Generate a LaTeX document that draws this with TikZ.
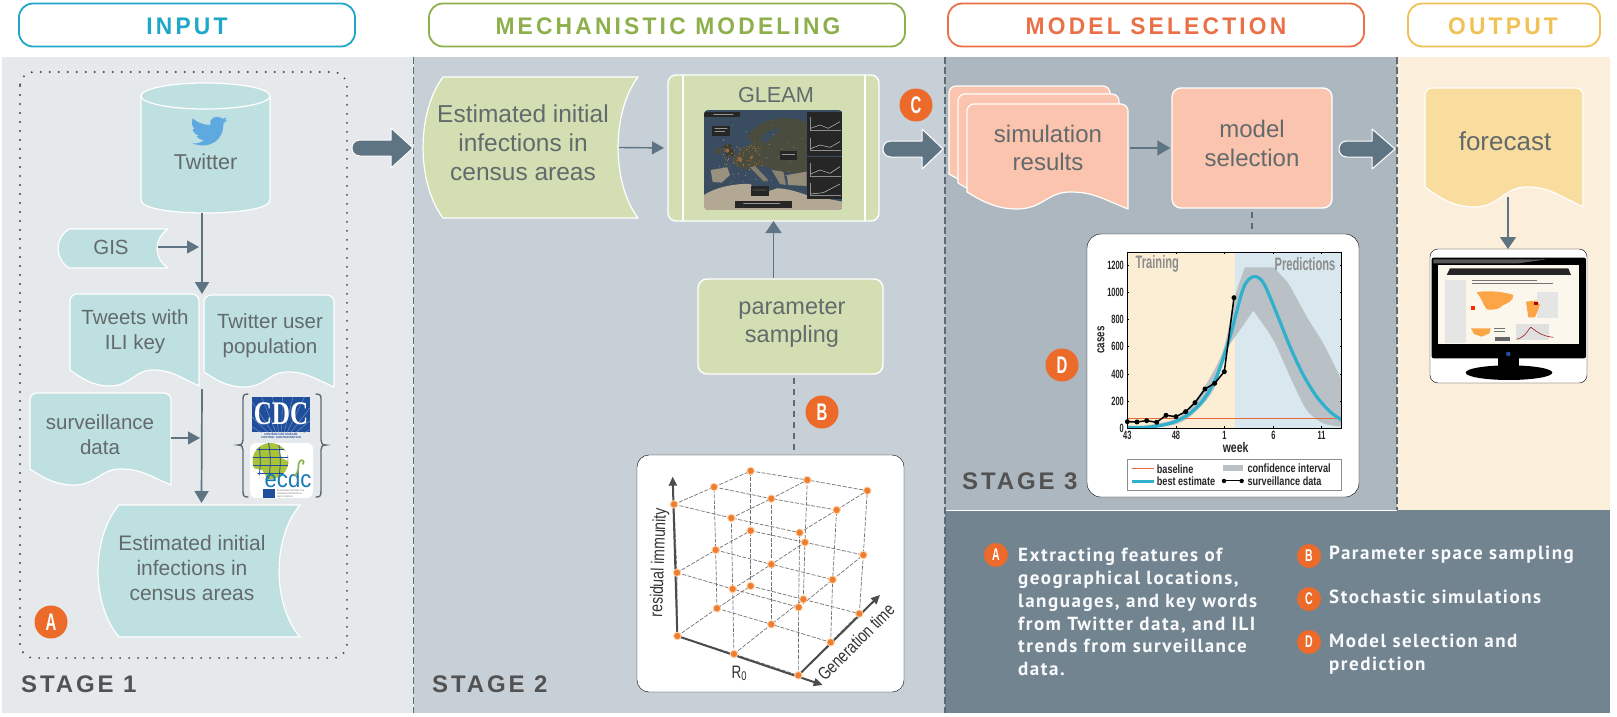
\documentclass[tikz,border=0pt]{standalone}
\usepackage{fontspec}
\setmainfont{Liberation Sans}
\newfontfamily\hdrfont[LetterSpace=14]{Liberation Sans}
\newfontfamily\stagefont[LetterSpace=12]{Liberation Sans}
\newfontfamily\legfont[LetterSpace=8]{PT Sans}
\newfontfamily\logoserif{Liberation Serif}
\usetikzlibrary{arrows.meta,calc,shapes.geometric}
\definecolor{txtgray}{HTML}{636A6C}
\definecolor{arrowc}{HTML}{5F7482}
\definecolor{dashc}{HTML}{5E6A72}
\definecolor{badgec}{HTML}{EC6A2A}
\definecolor{teal}{HTML}{BFE0E0}
\definecolor{greenb}{HTML}{D3DFB3}
\definecolor{salmon}{HTML}{FBC4AE}
\definecolor{yellowb}{HTML}{F8DD9F}
\definecolor{pa}{HTML}{E6E9EC}
\definecolor{pb}{HTML}{C8D0D7}
\definecolor{pc}{HTML}{ACB7BF}
\definecolor{pd}{HTML}{FBEFDB}
\definecolor{pe}{HTML}{738491}
\definecolor{hdra}{HTML}{1EA7C8}
\definecolor{hdrb}{HTML}{8EB04C}
\definecolor{hdrc}{HTML}{EA7047}
\definecolor{hdrd}{HTML}{F0C255}
\definecolor{cdcblue}{HTML}{1F4E9C}
\definecolor{birdc}{HTML}{5DA9E0}
\definecolor{mapsea}{HTML}{3A4D60}
\definecolor{mapland}{HTML}{4A4C3E}
\definecolor{maptan}{HTML}{B2A894}
\definecolor{mapor}{HTML}{96693F}
\definecolor{bandc}{HTML}{B9C1C6}
\definecolor{linered}{HTML}{E8683A}
\definecolor{lineblue}{HTML}{2FB0CC}
\definecolor{trainbg}{HTML}{FBEED5}
\definecolor{predbg}{HTML}{D9E8EE}
\definecolor{mono}{HTML}{FBA546}
\definecolor{screenbg}{HTML}{FCF7EC}
\definecolor{dotor}{HTML}{EF7D2F}
\newcommand\cnd[2][.72]{\scalebox{#1}[1]{#2}}
\newcommand\bx[5]{\node[inner sep=0pt,outer sep=0pt,minimum width={(#4-#2)*1pt},minimum height={(#5-#3)*1pt}] (#1) at ({(#2+#4)/2},{(#3+#5)/2}) {};}
% fill, x0,y0,x1,yl,yr
\newcommand\docshape[6]{\draw[fill=#1,draw=white,line width=1.2pt,line join=round] (#2,#5) [rounded corners=7pt] -- (#2,#3) -- (#4,#3) [sharp corners] -- (#4,#6)
 .. controls ({#4-.17*(#4-#2)},{#5+.35*(#6-#5)}) and ({#4-.22*(#4-#2)},#5) .. ({#4-.36*(#4-#2)},#5)
 .. controls ({#4-.5*(#4-#2)},#5) and ({#2+.47*(#4-#2)},#6) .. ({#2+.31*(#4-#2)},#6)
 .. controls ({#2+.17*(#4-#2)},#6) and ({#2+.08*(#4-#2)},{#5+.45*(#6-#5)}) .. (#2,#5) -- cycle;}
% fill,x0,y0,x1,y1,c
\newcommand\tapeshape[6]{\draw[fill=#1,draw=white,line width=1.2pt,line join=round] ({#2+#6},#3) -- (#4,#3)
 .. controls ({#4-1.33*#6},{#3+.25*(#5-#3)}) and ({#4-1.33*#6},{#5-.25*(#5-#3)}) .. (#4,#5) -- ({#2+#6},#5)
 .. controls ({#2-.33*#6},{#5-.25*(#5-#3)}) and ({#2-.33*#6},{#3+.25*(#5-#3)}) .. ({#2+#6},#3) -- cycle;}
% x0,x1,xh,yc
\newcommand\blockarrow[4]{\draw[fill=arrowc,draw=white,line width=1pt,line join=round] ({#1+8},{#4-8}) -- (#3,{#4-8}) -- (#3,{#4-20}) -- (#2,#4) -- (#3,{#4+20}) -- (#3,{#4+8}) -- ({#1+8},{#4+8}) .. controls ({#1-2.7},{#4+8}) and ({#1-2.7},{#4-8}) .. ({#1+8},{#4-8}) -- cycle;}
\tikzset{
 lbl/.style={text=txtgray,align=center,inner sep=0pt},
 arr/.style={draw=arrowc,line width=1.7pt,-{Triangle[length=12pt,width=14pt]}},
 thinarr/.style={draw=arrowc,line width=1.4pt,-{Triangle[length=12pt,width=13pt]}},
 dashl/.style={draw=dashc,line width=1.3pt,dash pattern=on 6pt off 5pt},
 paneld/.style={draw=dashc,line width=1.3pt,dash pattern=on 7pt off 3pt},
 hdrbox/.style={draw=#1,line width=1.8pt,rounded corners=14pt,fill=white,inner sep=0pt},
 hdrtxt/.style={text=#1,inner sep=0pt,font=\hdrfont\bfseries\fontsize{24}{26}\selectfont},
 stagelbl/.style={text=black!68,inner sep=0pt,font=\stagefont\bfseries\fontsize{24}{26}\selectfont},
 badge/.style={circle,fill=badgec,text=white,inner sep=0pt,minimum size=33pt,font=\bfseries\fontsize{24}{24}\selectfont},
 sbadge/.style={circle,fill=badgec,text=white,inner sep=0pt,minimum size=24pt,font=\bfseries\fontsize{17}{17}\selectfont},
 legtxt/.style={text=white!96!pe,align=left,inner sep=0pt,anchor=west,font=\legfont\bfseries\fontsize{19}{22.9}\selectfont},
 gdot/.style={circle,fill=dotor,draw=orange!35,line width=.9pt,inner sep=0pt,minimum size=7.5pt},
 gline/.style={draw=black!55,line width=.7pt,dash pattern=on 4pt off 1.5pt},
 axisl/.style={draw=black!70,line width=2pt,-{Triangle[length=9pt,width=8pt]}},
 axislab/.style={inner sep=0pt,text=black!80,font=\fontsize{18}{18}\selectfont},
 cardw/.style={fill=white,rounded corners=12pt},
 tick/.style={draw=black,line width=.5pt},
 chartlab/.style={inner sep=0pt,font=\bfseries\fontsize{12}{12}\selectfont,text=black!85},
}
\begin{document}
\begin{tikzpicture}[x=1pt,y=-1pt]
\useasboundingbox (0,0) rectangle (1617,717);
\fill[white] (0,0) rectangle (1617,717);
% panels
\fill[pa] (2,57) rectangle (413.5,713);
\fill[pb] (413.5,57) rectangle (945,713);
\fill[pc] (945,57) rectangle (1397,510);
\fill[pd] (1397,57) rectangle (1610,510);
\fill[pe] (945,510) rectangle (1610,713);
\draw[white,line width=1pt] (945,510) -- (1397,510);
\coordinate (d1a) at (413.5,57); \coordinate (d1b) at (413.5,713);
\coordinate (d2a) at (945,57); \coordinate (d2b) at (945,713);
\coordinate (d3a) at (1397,57); \coordinate (d3b) at (1397,510);
\draw[paneld] (d1a) -- (d1b);
\draw[paneld] (d2a) -- (d2b);
\draw[paneld] (d3a) -- (d3b);
% headers
\node[hdrbox=hdra,minimum width=336pt,minimum height=43pt] (hInputBox) at (187,25) {};
\node[hdrbox=hdrb,minimum width=476pt,minimum height=43pt] (hMechBox) at (667,25) {};
\node[hdrbox=hdrc,minimum width=416pt,minimum height=43pt] (hSelBox) at (1156,25) {};
\node[hdrbox=hdrd,minimum width=192pt,minimum height=43pt] (hOutBox) at (1504,25) {};
\node[hdrtxt=hdra] (hInput) at (187,26) {\cnd[.95]{INPUT}};
\node[hdrtxt=hdrb] (hMech) at (668,26) {\cnd[.95]{MECHANISTIC MODELING}};
\node[hdrtxt=hdrc] (hSel) at (1156,26) {\cnd[.95]{MODEL SELECTION}};
\node[hdrtxt=hdrd] (hOut) at (1503,26) {\cnd[.95]{OUTPUT}};
% stage labels
\node[stagelbl,anchor=west] (st1) at (21,684) {STAGE 1};
\node[stagelbl,anchor=west] (st2) at (432,684) {STAGE 2};
\node[stagelbl,anchor=west] (st3) at (962,481) {STAGE 3};
% dotted box
\draw[black!72,line width=2.1pt,dash pattern=on 0pt off 9pt,line cap=round,rounded corners=14pt] (20,72) rectangle (347,658);
% cylinder
\draw[fill=teal,draw=white,line width=1.2pt] (141,96) -- (141,200) .. controls (141,209) and (175,213) .. (205.5,213) .. controls (236,213) and (270,209) .. (270,200) -- (270,96) -- cycle;
\draw[fill=teal,draw=white,line width=1.2pt] (205.5,96) ellipse [x radius=64.5,y radius=13];
\bx{cyl}{141}{83}{270}{213}
\begin{scope}[shift={(0,60)},x=.3333pt,y=-.3333pt]
\fill[birdc] (682,178) -- (672,184) -- (680,172) -- (668,177) .. controls (650,162) and (625,175) .. (632,195) .. controls (605,195) and (590,185) .. (578,175) .. controls (572,190) and (578,202) .. (585,208) -- (578,207) .. controls (580,218) and (588,225) .. (597,228) -- (590,229) .. controls (595,237) and (602,240) .. (612,241) .. controls (602,248) and (590,252) .. (576,250) .. controls (630,270) and (672,240) .. (670,190) .. controls (675,187) and (680,183) .. (682,178) -- cycle;
\end{scope}
\node[lbl,font=\fontsize{21.5}{25}\selectfont] (twT) at (205.5,162) {Twitter};
% GIS
\tapeshape{teal}{58}{229}{168}{268}{11}
\bx{gis}{58}{229}{158}{268}
\node[lbl,font=\fontsize{20.5}{25}\selectfont] (gisT) at (111,247) {GIS};
% Tweets
\docshape{teal}{70}{294}{199}{370}{386}
\bx{tweets}{70}{294}{199}{386}
\node[lbl,font=\fontsize{20.5}{25}\selectfont] (tweetsT) at (135,331.5) {Tweets with\\ILI key};
\docshape{teal}{204}{295}{334}{372}{387}
\bx{tusers}{204}{295}{334}{387}
\node[lbl,font=\fontsize{20.5}{25}\selectfont] (tusersT) at (270,335.5) {Twitter user\\population};
% surveillance
\docshape{teal}{30}{393}{171}{469}{485}
\bx{surv}{30}{393}{171}{485}
\node[lbl,font=\fontsize{20.5}{25}\selectfont] (survT) at (100,434.5) {surveillance\\data};
% trunk
\coordinate (trA) at (202,294);
\coordinate (trB) at (202,389);
\coordinate (trC) at (201.5,503);
\coordinate (gisTip) at (199,247);
\coordinate (survTip) at (200,438);
\draw[arr] (cyl.south -| trA) -- (trA);
\draw[arr] (trB) -- (trC);
\draw[thinarr] (gis.east |- gisTip) -- (gisTip);
\draw[thinarr] (surv.east |- survTip) -- (survTip);
% CDC logo
\begin{scope}
\clip (252,397) rectangle (310,432);
\fill[cdcblue] (252,397) rectangle (310,432);
\foreach \a in {-70,-58,...,70}{\draw[white!45!cdcblue,line width=.35pt] (281,445) -- ++({\a-90}:60);}
\end{scope}
\node[inner sep=0pt,text=white,font=\logoserif\bfseries\fontsize{33}{33}\selectfont] (cdcT) at (281,414) {\scalebox{.76}[1]{CDC}};
\node[inner sep=0pt,align=center,text=cdcblue,font=\bfseries\fontsize{2.8}{3.6}\selectfont] (cdcC) at (281,436) {CENTERS FOR DISEASE\\CONTROL AND PREVENTION};
% ECDC logo
\fill[white,rounded corners=6pt] (250,443) rectangle (313,498);
\fill[hdrb!75!yellow] (270.5,461) circle (18);
\begin{scope}\clip (270.5,461) circle (18);
\fill[white] (252,468) -- (262,470) -- (268,480) -- (250,480) -- cycle;
\fill[white] (278,448) -- (288,452) -- (290,462) -- (282,458) -- cycle;
\foreach \yy in {449,457,465,473}{\draw[cdcblue,line width=.8pt] (250,\yy) -- (292,\yy);}
\foreach \xx in {258,268,278,286}{\draw[cdcblue,line width=.8pt] (\xx,440) .. controls (\xx+3,455) and (\xx+3,468) .. (\xx,482);}
\end{scope}
\node[inner sep=0pt,text=cdcblue!75!cyan,font=\fontsize{24}{24}\selectfont] (ecdcT) at (288,479) {\scalebox{.92}[1]{ecdc}};
\draw[hdrb,line width=1.6pt,line cap=round] (294,476) .. controls (302,470) and (296,464) .. (300,461) .. controls (302,459) and (305,461) .. (303,464);
\fill[cdcblue] (263,489) rectangle (275,498);
\node[inner sep=0pt,align=left,anchor=west,text=black!60,font=\fontsize{2.2}{3}\selectfont] (ecdcC) at (277,493.5) {EUROPEAN CENTRE FOR\\DISEASE PREVENTION\\AND CONTROL};
% braces
\draw[dashc,line width=1.4pt,line cap=round] (248,394) .. controls (243,394) and (243,396) .. (243,400) -- (243,440) .. controls (243,443) and (242,445) .. (238,445) .. controls (242,445) and (243,447) .. (243,450) -- (243,491) .. controls (243,496) and (244,497) .. (248,497);
\draw[dashc,line width=1.4pt,line cap=round] (316,394) .. controls (321,394) and (321,396) .. (321,400) -- (321,440) .. controls (321,443) and (322,445) .. (326,445) .. controls (322,445) and (321,447) .. (321,450) -- (321,491) .. controls (321,496) and (320,497) .. (316,497);
% Estimated A
\tapeshape{teal}{98}{505}{300}{637}{21}
\node[lbl,font=\fontsize{21}{25}\selectfont] (estAT) at (192,568) {Estimated initial\\infections in\\census areas};
\node[badge] (bA) at (51,622) {\cnd[.62]{A}};
% Block arrows
\blockarrow{352}{413}{391}{148}
\blockarrow{883}{943}{922}{149}
\blockarrow{1339}{1395}{1372}{149}
% Estimated G
\tapeshape{greenb}{423}{77}{638}{218}{20}
\bx{estG}{423}{77}{619}{218}
\node[lbl,font=\fontsize{24.5}{29}\selectfont] (estGT) at (523,143) {Estimated initial\\infections in\\census areas};
% GLEAM
\draw[fill=greenb,draw=white,line width=1.4pt,rounded corners=8pt] (668,75) rectangle (879,221);
\draw[white,line width=1.3pt] (683,75) -- (683,221) (865,75) -- (865,221);
\bx{gleam}{668}{75}{879}{221}
\node[lbl,font=\fontsize{21.7}{25}\selectfont] (gleamT) at (776,95) {GLEAM};
\begin{scope}[shift={(640,60)},x=.3333pt,y=-.3333pt]
\begin{scope}
\path[clip,rounded corners=4pt] (192,150) rectangle (608,450);
\fill[mapsea] (192,150) rectangle (608,450);
% land
\fill[mapland] (320,230) .. controls (340,205) and (370,180) .. (420,176) .. controls (460,172) and (490,180) .. (500,190) -- (500,335) .. controls (470,345) and (450,335) .. (425,338) .. controls (400,330) and (385,318) .. (360,318) .. controls (345,325) and (320,335) .. (300,325) .. controls (285,315) and (270,300) .. (285,285) .. controls (300,270) and (330,260) .. (335,245) -- cycle;
\fill[mapsea] (362,238) .. controls (375,215) and (395,205) .. (420,208) .. controls (405,225) and (385,240) .. (372,250) -- cycle;
\fill[mapland!80!black] (248,258) -- (272,250) -- (285,285) -- (262,292) -- cycle;
\fill[mapland] (225,265) -- (245,262) -- (243,282) -- (226,282) -- cycle;
\fill[maptan!75!mapland] (212,330) -- (262,322) -- (270,345) -- (245,368) -- (218,366) -- cycle;
\fill[maptan!55!mapland] (330,322) -- (345,318) -- (385,360) -- (372,365) -- cycle;
\fill[maptan!60!mapland] (395,330) -- (430,335) -- (438,375) -- (420,372) -- cycle;
\fill[maptan!70!mapland] (440,345) -- (500,335) -- (500,378) -- (445,375) -- cycle;
\fill[maptan] (192,405) .. controls (230,380) and (290,370) .. (330,372) .. controls (350,395) and (380,400) .. (410,385) .. controls (440,385) and (470,395) .. (500,405) -- (608,425) -- (608,450) -- (192,450) -- cycle;
% city lights
\pgfmathsetseed{7}
\foreach \n in {1,...,70}{\pgfmathsetmacro\rx{250+rnd*120}\pgfmathsetmacro\ry{255+rnd*65}\fill[mapor!70!orange] (\rx,\ry) circle (1.7);}
\foreach \n in {1,...,45}{\pgfmathsetmacro\rx{230+rnd*260}\pgfmathsetmacro\ry{195+rnd*175}\fill[white!85!gray] (\rx,\ry) circle (.9);}
\fill[mapor] (262,272) circle (6) (300,298) circle (7) (335,292) circle (5);
% overlays
\fill[black!85] (500,155) rectangle (608,288);
\fill[black!85] (500,292) rectangle (608,418);
\fill[black!85] (285,422) rectangle (455,445);
\fill[black!85] (332,378) rectangle (388,408);
\fill[black!85] (420,272) rectangle (472,300);
\fill[black!85] (217,198) rectangle (270,228);
\fill[black!85] (192,155) rectangle (300,172);
\draw[black!45,line width=.35pt] (510,210) -- (604,210) (510,272) -- (604,272) (510,350) -- (604,350) (510,405) -- (604,405) (510,170) -- (510,210) (510,235) -- (510,272) (510,310) -- (510,350) (510,368) -- (510,405);
\draw[white!65!gray,line width=.45pt] (310,431) -- (420,431) (512,205) -- (540,195) -- (565,205) -- (600,185) (512,266) -- (540,255) -- (570,262) -- (600,245) (512,342) -- (540,330) -- (570,340) -- (600,320) (512,402) -- (550,398) -- (600,372) (220,163) -- (280,163) (224,206) -- (262,206) (224,214) -- (255,214) (338,390) -- (380,390) (426,284) -- (465,284);
\end{scope}
\end{scope}
\draw[thinarr,shorten >=4pt] (estG.east) -- (gleam.west);
% parameter sampling
\node[draw=white,line width=1.4pt,fill=greenb,rounded corners=9pt,minimum width=185pt,minimum height=95pt,inner sep=0pt] (param) at (790.5,326.5) {};
\node[lbl,font=\fontsize{23.5}{28}\selectfont] (paramT) at (792,323) {parameter\\sampling};
\draw[arr,line width=1.6pt,-{Triangle[length=12pt,width=16pt]}] (param.north -| gleam.south) -- (gleam.south);
\coordinate (dbA) at (794,378); \coordinate (dbB) at (794,450);
\draw[dashl] (dbA) -- (dbB);
\node[badge] (bB) at (822,412) {\cnd[.62]{B}};
% cube card
\draw[cardw] (637,455) rectangle (904,692);
\begin{scope}[shift={(620,440)},x=.3333pt,y=-.3333pt]
\foreach \i/\j/\k/\xx/\yy in {0/0/0/172/588,1/0/0/342/642,2/0/0/535/706,0/1/0/291/505,1/1/0/454/553,2/1/0/632/607,0/2/0/392/438,1/2/0/550/478,2/2/0/718/521,0/0/1/171/398,1/0/1/338/447,2/0/1/536/502,0/1/1/287/330,1/1/1/454/373,2/1/1/638/419,0/2/1/392/272,1/2/1/555/307,2/2/1/730/345,0/0/2/162/193,1/0/2/334/234,2/0/2/539/278,0/1/2/282/141,1/1/2/454/176,2/1/2/650/210,0/2/2/392/93,1/2/2/562/120,2/2/2/742/152}{\coordinate (p\i\j\k) at (\xx,\yy);}
\foreach \a in {0,1,2}{\foreach \b in {0,1,2}{
 \draw[gline] (p0\a\b) -- (p1\a\b) -- (p2\a\b);
 \draw[gline] (p\a0\b) -- (p\a1\b) -- (p\a2\b);
 \draw[gline] (p\a\b0) -- (p\a\b1) -- (p\a\b2);
}}
\coordinate (axT1) at (158,110); \coordinate (axT2) at (608,735); \coordinate (axT3) at (780,465);
\draw[axisl] (p000) -- (axT1);
\draw[axisl] (p000) -- (axT2);
\draw[axisl] (p200) -- (axT3);
\foreach \i in {0,1,2}{\foreach \j in {0,1,2}{\foreach \k in {0,1,2}{\node[gdot] (d\i\j\k) at (p\i\j\k) {};}}}
\node[axislab,rotate=88] (axL1) at (118,368) {\cnd[.78]{residual immunity}};
\node[axislab] (axL2) at (358,700) {\cnd[.75]{R$_{\mathrm{0}}$}};
\node[axislab,rotate=45] (axL3) at (708,606) {\cnd[.78]{Generation time}};
\end{scope}
% simulation results
\docshape{salmon}{949}{86}{1110}{174}{190}
\docshape{salmon}{958}{94}{1119}{183}{200}
\docshape{salmon}{967}{104}{1128}{192}{209}
\bx{sim}{967}{104}{1128}{209}
\node[lbl,font=\fontsize{24}{28}\selectfont] (simT) at (1048,148) {simulation\\results};
\node[draw=white,line width=1.4pt,fill=salmon,rounded corners=9pt,minimum width=160pt,minimum height=120pt,inner sep=0pt] (model) at (1252,148) {};
\node[lbl,font=\fontsize{24}{29}\selectfont] (modelT) at (1252,143.5) {model\\selection};
\draw[thinarr,-{Triangle[length=13pt,width=15pt]},shorten <=2pt,shorten >=1pt] (sim.east |- model.west) -- (model.west);
\coordinate (dcA) at (1252,212); \coordinate (dcB) at (1252,235);
\draw[dashl] (dcA) -- (dcB);
\node[badge] (bC) at (916,105) {\cnd[.62]{C}};
\node[badge] (bD) at (1062,365) {\cnd[.62]{D}};
% chart card
\draw[cardw,rounded corners=14pt] (1087,234) rectangle (1359,497);
\begin{scope}[shift={(1040,220)},x=.3333pt,y=-.3333pt]
\fill[trainbg] (262,97) rectangle (585,625);
\fill[predbg] (585,97) rectangle (905,625);
\begin{scope}
\clip (262,97) rectangle (905,625);
\fill[bandc] plot[smooth,tension=.5] coordinates {(262,625) (400,600) (450,560) (500,490) (550,390) (585,230) (615,142)} -- plot[smooth,tension=.3] coordinates {(700,142) (745,190) (800,290) (850,370) (905,480)} -- plot[smooth,tension=.5] coordinates {(905,620) (850,610) (800,570) (750,470) (700,360) (640,272)} -- plot[smooth,tension=.4] coordinates {(640,272) (600,330) (560,390) (530,490) (500,540) (450,590) (400,615) (300,625)} -- cycle;
\draw[linered,line width=.9pt] (262,595) -- (905,595);
\draw[lineblue,line width=3.2pt] plot[smooth,tension=.5] coordinates {(262,622) (320,622) (370,615) (410,603) (450,580) (490,540) (530,470) (570,350) (610,205) (640,170) (670,188) (710,280) (750,380) (790,465) (830,530) (870,575) (905,600)};
\end{scope}
\draw[black,line width=1.5pt] plot coordinates {(262,605) (291,606) (320,602) (350,607) (378,586) (408,590) (437,575) (465,548) (495,507) (524,490) (553,455) (582,233)};
\foreach \px/\py in {262/605,291/606,320/602,350/607,378/586,408/590,437/575,465/548,495/507,524/490,553/455,582/233}{\fill[black] (\px,\py) circle (2.5pt);}
\draw[black,line width=.9pt] (262,97) rectangle (905,625);
\foreach \vv/\yy in {0/625,200/545,400/463,600/380,800/298,1000/216,1200/135}{
 \draw[tick] (262,\yy) -- (268,\yy) (905,\yy) -- (899,\yy);
 \node[chartlab,anchor=east] at (252,\yy) {\cnd[.62]{\vv}};
}
\foreach \ww/\xx in {43/262,48/408,1/553,6/700,11/845}{
 \draw[tick] (\xx,625) -- (\xx,619) (\xx,97) -- (\xx,103);
 \node[chartlab] at (\xx,645) {\cnd[.62]{\ww}};
}
\node[chartlab,rotate=90,font=\bfseries\fontsize{13}{13}\selectfont] (caseT) at (183,360) {\cnd[.75]{cases}};
\node[chartlab,font=\bfseries\fontsize{14}{14}\selectfont] (weekT) at (587,682) {\cnd[.75]{week}};
\node[inner sep=0pt,font=\bfseries\fontsize{18}{18}\selectfont,text=black!45] (trainT) at (352,133) {\cnd[.62]{Training}};
\node[inner sep=0pt,font=\bfseries\fontsize{18}{18}\selectfont,text=black!45] (predT) at (795,133) {\cnd[.62]{Predictions}};
\draw[black!45,line width=.6pt,fill=white] (262,717) rectangle (903,810);
\draw[linered,line width=1pt] (277,747) -- (342,747);
\node[chartlab,anchor=west] (l1) at (350,747) {\cnd[.76]{baseline}};
\draw[lineblue,line width=2.8pt] (277,785) -- (342,785);
\node[chartlab,anchor=west] (l2) at (350,785) {\cnd[.76]{best estimate}};
\fill[bandc] (550,735) rectangle (610,752);
\node[chartlab,anchor=west] (l3) at (622,745) {\cnd[.76]{confidence interval}};
\draw[black,line width=1pt] (552,783) -- (605,783);
\fill[black] (552,783) circle (2.2pt) (605,783) circle (2.2pt);
\node[chartlab,anchor=west] (l4) at (622,783) {\cnd[.76]{surveillance data}};
\end{scope}
% forecast
\docshape{yellowb}{1425}{88}{1583}{187}{207}
\bx{fc}{1425}{88}{1583}{197}
\node[lbl,font=\fontsize{26}{30}\selectfont] (fcT) at (1505,141) {forecast};
% monitor card
\draw[cardw,rounded corners=8pt] (1430,249) rectangle (1587,383);
\coordinate (fcTip) at (1508,249);
\draw[arr,line width=1.5pt,-{Triangle[length=12pt,width=16pt]}] (fc.south -| fcTip) -- (fcTip);
\begin{scope}[shift={(1370,230)},x=.3333pt,y=-.3333pt]
\fill[black,rounded corners=2pt] (185,83) rectangle (648,385);
\fill[black!65] (190,88) -- (530,88) -- (445,100) -- (190,100) -- cycle;
\fill[screenbg] (205,105) rectangle (627,342);
\fill[black!85] (230,135) -- (240,115) -- (595,115) -- (603,135) -- cycle;
\fill[black!10] (225,150) rectangle (287,338);
\fill[mono] (320,187) .. controls (350,180) and (400,185) .. (430,195) .. controls (432,210) and (410,222) .. (398,226) .. controls (392,235) and (375,242) .. (350,238) .. controls (340,225) and (335,205) .. (320,187) -- cycle;
\fill[black!10] (500,185) rectangle (565,265);
\fill[mono] (468,215) -- (500,212) -- (510,225) -- (495,262) -- (475,262) -- cycle;
\fill[red!70!black] (492,215) rectangle (505,225);
\fill[red!70!orange] (304,228) rectangle (314,240);
\fill[mono] (303,295) -- (362,295) -- (358,310) -- (335,320) -- (312,312) -- cycle;
\fill[black!12] (437,282) rectangle (538,330);
\draw[red!60!black,line width=.5pt] (440,328) .. controls (470,320) and (475,295) .. (483,292) .. controls (495,300) and (510,318) .. (550,322);
\draw[black!55,line width=.4pt] (305,150) -- (500,150) (305,160) -- (550,160) (372,295) -- (405,295) (372,305) -- (405,305);
\fill[black!60] (375,322) rectangle (420,333);
\fill[cdcblue] (415,372) circle (7);
\fill[black] (385,385) rectangle (447,420);
\fill[black] (417,428) ellipse [x radius=130,y radius=22];
\end{scope}
% legend
\node[sbadge] (lA) at (996,555) {\cnd[.62]{A}};
\node[legtxt] (ltA) at (1018,612) {Extracting features of\\geographical locations,\\languages, and key words\\from Twitter data, and ILI\\trends from surveillance\\data.};
\node[sbadge] (lB) at (1309,556) {\cnd[.62]{B}};
\node[legtxt] (ltB) at (1329,555) {Parameter space sampling};
\node[sbadge] (lC) at (1309,599) {\cnd[.62]{C}};
\node[legtxt] (ltC) at (1329,597) {Stochastic simulations};
\node[sbadge] (lD) at (1309,642) {\cnd[.62]{D}};
\node[legtxt] (ltD) at (1329,654.5) {Model selection and\\prediction};
\end{tikzpicture}
\end{document}
